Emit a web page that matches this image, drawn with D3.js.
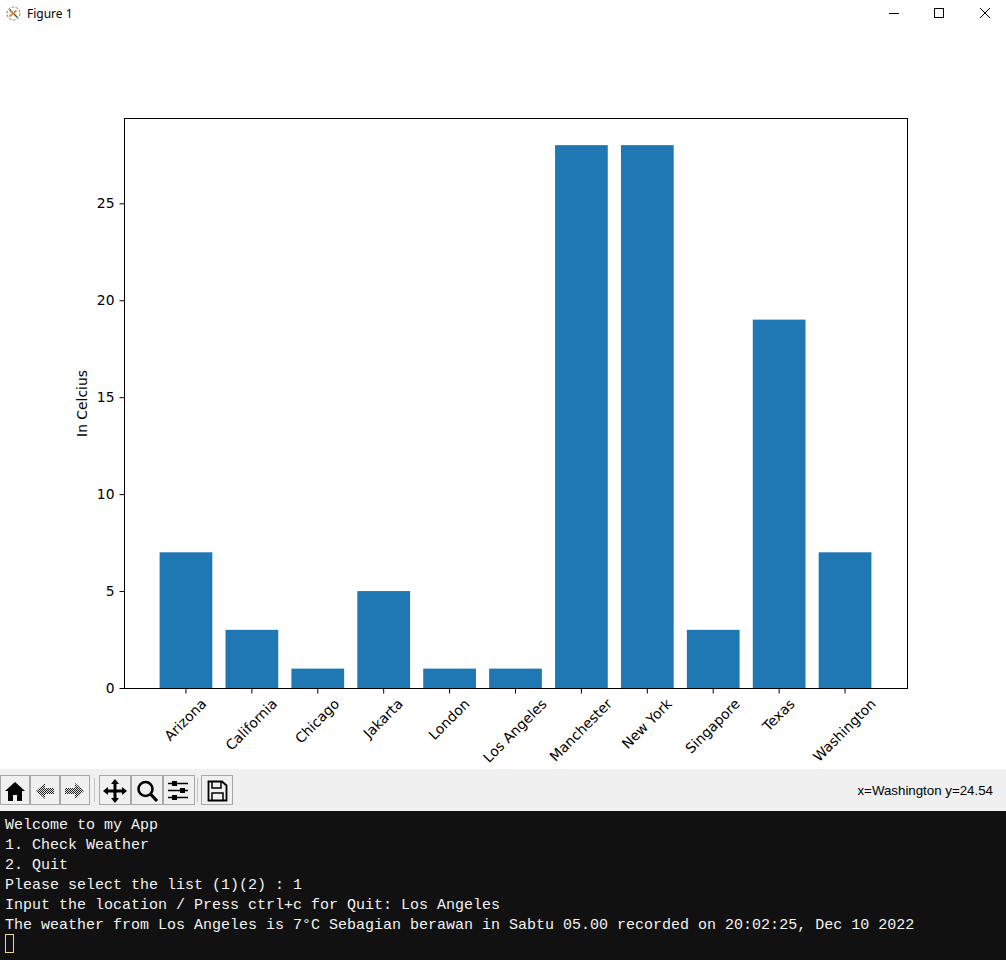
<!DOCTYPE html>
<html>
<head>
<meta charset="utf-8">
<script src="https://cdnjs.cloudflare.com/ajax/libs/d3/7.8.5/d3.min.js"></script>
<style>
  html, body { margin: 0; padding: 0; background: #fff; overflow: hidden; }
  svg { display: block; }
</style>
</head>
<body>
<script>
var cities = ['Arizona', 'California', 'Chicago', 'Jakarta', 'London', 'Los Angeles',
  'Manchester', 'New York', 'Singapore', 'Texas', 'Washington'];
var temps = [7, 3, 1, 5, 1, 1, 28, 28, 3, 19, 7];
var yTicks = [0, 5, 10, 15, 20, 25];
var consoleLines = [
  'Welcome to my App',
  '1. Check Weather',
  '2. Quit',
  'Please select the list (1)(2) : 1',
  'Input the location / Press ctrl+c for Quit: Los Angeles',
  'The weather from Los Angeles is 7\u00b0C Sebagian berawan in Sabtu 05.00 recorded on 20:02:25, Dec 10 2022'
];
var figureTitle = 'Figure 1';
var statusText = 'x=Washington y=24.54';
var yLabel = 'In Celcius';

var width = 1006, height = 960;
var plotLeft = 124.5, plotRight = 907.5, plotTop = 118.5, plotBottom = 688.5;
var sansFont = '"DejaVu Sans", sans-serif';
var uiFont = '"Liberation Sans", Arial, sans-serif';
var tickFontSize = 13.89;

var svg = d3.select('body').append('svg')
  .attr('width', width)
  .attr('height', height);

svg.append('rect').attr('width', width).attr('height', height).attr('fill', '#fff');

// dither used by the greyed out toolbar arrows
var dither = svg.append('defs').append('pattern')
  .attr('id', 'dither')
  .attr('width', 2)
  .attr('height', 2)
  .attr('patternUnits', 'userSpaceOnUse');
dither.append('rect').attr('width', 2).attr('height', 2).attr('fill', '#e4e4e4');
dither.append('path').attr('d', 'M0,0h1v1h-1zM1,1h1v1h-1z').attr('fill', '#222');

// Chart

var x = d3.scaleBand()
  .domain(cities)
  .range([plotLeft - 0.5, plotRight - 0.5])
  .paddingInner(0.2)
  .paddingOuter(0.54);

var y = d3.scaleLinear()
  .domain([0, d3.max(temps) * 1.05])
  .range([plotBottom - 0.5, plotTop - 0.5]);

svg.selectAll('rect.bar')
  .data(temps)
  .enter()
  .append('rect')
    .attr('class', 'bar')
    .attr('x', function (d, i) { return x(cities[i]); })
    .attr('y', function (d) { return y(d); })
    .attr('width', x.bandwidth())
    .attr('height', function (d) { return y(0) - y(d); })
    .attr('fill', '#1f77b4');

// Axes frame
svg.append('rect')
  .attr('x', plotLeft)
  .attr('y', plotTop)
  .attr('width', plotRight - plotLeft)
  .attr('height', plotBottom - plotTop)
  .attr('fill', 'none')
  .attr('stroke', '#000')
  .attr('stroke-width', 1);

var yAxis = svg.append('g')
  .attr('transform', 'translate(' + plotLeft + ',0)')
  .call(d3.axisLeft(y).tickValues(yTicks).tickSize(5).tickPadding(5).tickFormat(d3.format('d')));
yAxis.select('.domain').remove();
yAxis.selectAll('text')
  .attr('font-family', sansFont)
  .attr('font-size', tickFontSize)
  .attr('fill', '#000');

var xAxis = svg.append('g')
  .attr('transform', 'translate(0,' + plotBottom + ')')
  .call(d3.axisBottom(x).tickSize(5).tickSizeOuter(0));
xAxis.select('.domain').remove();

// Labels are rotated around the middle of their box, like matplotlib does
xAxis.selectAll('text')
  .attr('font-family', sansFont)
  .attr('font-size', tickFontSize)
  .attr('fill', '#000')
  .attr('dy', null)
  .attr('text-anchor', 'middle')
  .attr('dominant-baseline', 'middle')
  .attr('y', 0)
  .attr('transform', function () {
    var len = this.getComputedTextLength();
    var half = (len + 14) * Math.SQRT1_2 / 2;
    return 'translate(0,' + (8.5 + half) + ') rotate(-45)';
  });

svg.append('text')
  .attr('transform', 'translate(87,' + ((plotTop + plotBottom) / 2) + ') rotate(-90)')
  .attr('text-anchor', 'middle')
  .attr('font-family', sansFont)
  .attr('font-size', tickFontSize)
  .attr('fill', '#000')
  .text(yLabel);

// Title bar

var logo = svg.append('g').attr('transform', 'translate(13.5,13.5)');
logo.append('circle')
  .attr('r', 6.5)
  .attr('fill', '#fff')
  .attr('stroke', '#5f7f96')
  .attr('stroke-width', 1)
  .attr('stroke-dasharray', '2.5 1.5');
logo.append('path').attr('d', 'M-4,-4L4,4').attr('stroke', '#444').attr('stroke-width', 1.2);
logo.append('path').attr('d', 'M-4,3L3,-3').attr('stroke', '#e8872c').attr('stroke-width', 2);
logo.append('path').attr('d', 'M-1,-1L-4,-2').attr('stroke', '#d9b44a').attr('stroke-width', 1.5);

svg.append('text')
  .attr('x', 27)
  .attr('y', 18)
  .attr('font-family', '"Noto Sans", ' + uiFont)
  .attr('font-size', 12)
  .attr('fill', '#000')
  .text(figureTitle);

var winIcons = svg.append('g').attr('fill', 'none').attr('stroke', '#000').attr('stroke-width', 1);
winIcons.append('path').attr('d', 'M889,13.5H899');
winIcons.append('rect').attr('x', 934.5).attr('y', 8.5).attr('width', 9).attr('height', 9);
winIcons.append('path').attr('d', 'M980,8L990,18M990,8L980,18');

// Toolbar

svg.append('rect').attr('x', 0).attr('y', 769).attr('width', width).attr('height', 42).attr('fill', '#f0f0f0');

var buttonX = [0, 30, 60, 99, 131, 163, 201];
var buttonW = [30, 30, 30, 32, 32, 32, 32];
var toolbar = svg.append('g');
toolbar.selectAll('rect.btn')
  .data(buttonX)
  .enter()
  .append('rect')
    .attr('class', 'btn')
    .attr('x', function (d) { return d + 0.5; })
    .attr('y', 775.5)
    .attr('width', function (d, i) { return buttonW[i] - 1; })
    .attr('height', 29)
    .attr('fill', '#f0f0f0')
    .attr('stroke', '#a8a8a8');

// separators
toolbar.selectAll('path.sep')
  .data([94.5, 197.5])
  .enter()
  .append('path')
    .attr('class', 'sep')
    .attr('d', function (d) { return 'M' + d + ',778V802'; })
    .attr('stroke', '#c4c4c4');

// home
toolbar.append('path')
  .attr('d', 'M15,782L25,791H22V801H17V795H13V801H8V791H5Z')
  .attr('fill', '#000');
// back, forward (greyed out)
toolbar.append('path')
  .attr('d', 'M36,791L45,783V788H54V794H45V799Z')
  .attr('fill', 'url(#dither)');
toolbar.append('path')
  .attr('d', 'M84,791L75,783V788H65V794H75V799Z')
  .attr('fill', 'url(#dither)');
// pan
toolbar.append('path')
  .attr('d', 'M115,779L119,784H116.5V789.5H122V787L127,791L122,795V792.5H116.5V798H119L115,803L111,798H113.5V792.5H108V795L103,791L108,787V789.5H113.5V784H111Z')
  .attr('fill', '#000');
// zoom
toolbar.append('circle')
  .attr('cx', 145.5).attr('cy', 789).attr('r', 7)
  .attr('fill', 'none').attr('stroke', '#000').attr('stroke-width', 2.6);
toolbar.append('path')
  .attr('d', 'M150.5,794L157,801')
  .attr('stroke', '#000').attr('stroke-width', 3.2);
// sliders
toolbar.append('path')
  .attr('d', 'M168,783.5H188M168,790.5H188M168,797.5H188')
  .attr('stroke', '#000').attr('stroke-width', 1.4);
toolbar.append('path')
  .attr('d', 'M172,781h5v5h-5zM180,788h5v5h-5zM172,795h5v5h-5z')
  .attr('fill', '#000');
// save
toolbar.append('path')
  .attr('d', 'M208.5,781.5H222L226.5,785.5V800.5H208.5Z')
  .attr('fill', 'none').attr('stroke', '#000').attr('stroke-width', 1.8);
toolbar.append('path')
  .attr('d', 'M212,782V788H221V782M212,800V793H223V800')
  .attr('fill', 'none').attr('stroke', '#000').attr('stroke-width', 1.5);

svg.append('text')
  .attr('x', 993)
  .attr('y', 795)
  .attr('text-anchor', 'end')
  .attr('font-family', uiFont)
  .attr('font-size', 13.3)
  .attr('fill', '#000')
  .text(statusText);

// Terminal

svg.append('rect').attr('x', 0).attr('y', 811).attr('width', width).attr('height', 149).attr('fill', '#111');

svg.selectAll('text.console')
  .data(consoleLines)
  .enter()
  .append('text')
    .attr('class', 'console')
    .attr('x', 5)
    .attr('y', function (d, i) { return 829 + i * 20; })
    .attr('font-family', '"Liberation Mono", "DejaVu Sans Mono", monospace')
    .attr('font-size', 15)
    .attr('fill', '#f2f2f2')
    .text(function (d) { return d; });

// cursor
svg.append('rect')
  .attr('x', 5.5)
  .attr('y', 934.5)
  .attr('width', 8)
  .attr('height', 18)
  .attr('fill', 'none')
  .attr('stroke', '#f0d78c');
</script>
</body>
</html>
